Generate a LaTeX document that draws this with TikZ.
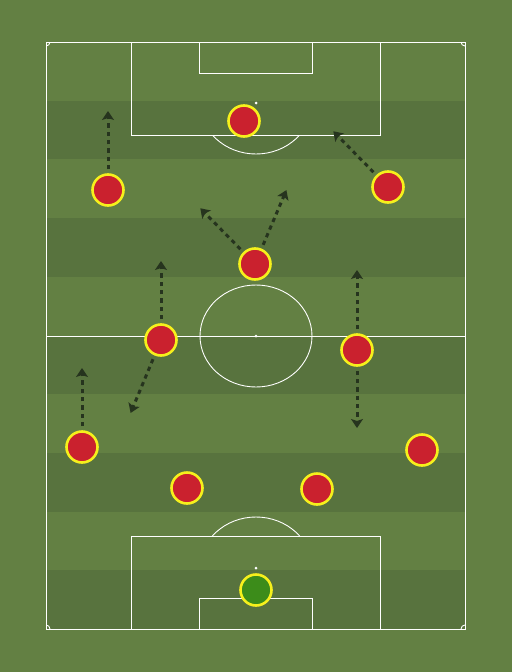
\documentclass[tikz,border=0pt]{standalone}
\usepackage{tikz}
\usetikzlibrary{arrows.meta, shadows}
\usepackage{xcolor}
\definecolor{grasslight}{RGB}{99,128,67}
\definecolor{grassdark}{RGB}{88,115,62}
\definecolor{kitred}{RGB}{202,33,46}
\definecolor{kityellow}{RGB}{246,240,28}
\definecolor{kitkeeper}{RGB}{60,140,26}
\definecolor{runcol}{RGB}{38,52,30}

\begin{document}
\begin{tikzpicture}[x=1pt, y=-1pt,
    pitchline/.style={draw=white, line width=0.9pt},
    player/.style={circle, draw=kityellow, line width=2.6pt, fill=kitred, minimum size=31pt, inner sep=0pt,
        drop shadow={opacity=0.25, shadow xshift=0pt, shadow yshift=-1.5pt}},
    keeper/.style={player, fill=kitkeeper},
    run/.style={draw=runcol, line width=3pt, dash pattern=on 4.3pt off 4pt, shorten <=4pt,
        -{Stealth[length=9pt, width=12pt, inset=2pt, sep=-1pt]}}]
            % Grass
            \fill[grasslight] (0,0) rectangle (512,672);
            \useasboundingbox (0,0) rectangle (512,672);
            \foreach \k in {1,3,5,7,9}
                \fill[grassdark] (46,42+58.7*\k) rectangle (465,42+58.7*\k+58.7);
            % Lines
            \draw[pitchline] (46,42) rectangle (465,629);
            \draw[pitchline] (46,336) -- (465,336);
            \draw[pitchline] (256,336) ellipse [x radius=56, y radius=51];
            \draw[pitchline] (131,42) rectangle (380,135);
            \draw[pitchline] (199,42) rectangle (312,73);
            \draw[pitchline] (131,536) rectangle (380,629);
            \draw[pitchline] (199,598) rectangle (312,629);
            \begin{scope}
                \clip (46,135) rectangle (465,300);
                \draw[pitchline] (256,103) ellipse [x radius=56, y radius=51];
            \end{scope}
            \begin{scope}
                \clip (46,400) rectangle (465,536);
                \draw[pitchline] (256,568) ellipse [x radius=56, y radius=51];
            \end{scope}
            \begin{scope}
                \clip (46,42) rectangle (465,629);
                \foreach \cx/\cy in {46/42, 465/42, 46/629, 465/629}
                    \draw[pitchline] (\cx,\cy) circle [radius=4];
            \end{scope}
            \foreach \sy in {103,336,568}
                \fill[white] (256,\sy) circle [radius=1.5];
            % Players
            \node[player] (st) at (244,121) {};
            \node[player] (lw) at (108,190) {};
            \node[player] (rw) at (388,187) {};
            \node[player] (am) at (255,264) {};
            \node[player] (lm) at (161,340) {};
            \node[player] (rm) at (357,350) {};
            \node[player] (lb) at (82,447) {};
            \node[player] (rb) at (422,450) {};
            \node[player] (cbl) at (187,488) {};
            \node[player] (cbr) at (317,489) {};
            \node[keeper] (gk) at (256,590) {};
            % Runs
            \coordinate (lw run) at (108,112);
            \coordinate (rw run) at (334,132);
            \coordinate (am left) at (201,209);
            \coordinate (am right) at (286,191);
            \coordinate (lm up) at (161,262);
            \coordinate (lm down) at (131,412);
            \coordinate (rm up) at (357,271);
            \coordinate (rm down) at (357,427);
            \coordinate (lb run) at (82,369);
            \draw[run] (lw) -- (lw run);
            \draw[run] (rw) -- (rw run);
            \draw[run] (am) -- (am left);
            \draw[run] (am) -- (am right);
            \draw[run] (lm) -- (lm up);
            \draw[run] (lm) -- (lm down);
            \draw[run] (rm) -- (rm up);
            \draw[run] (rm) -- (rm down);
            \draw[run] (lb) -- (lb run);
        \end{tikzpicture}
\end{document}
